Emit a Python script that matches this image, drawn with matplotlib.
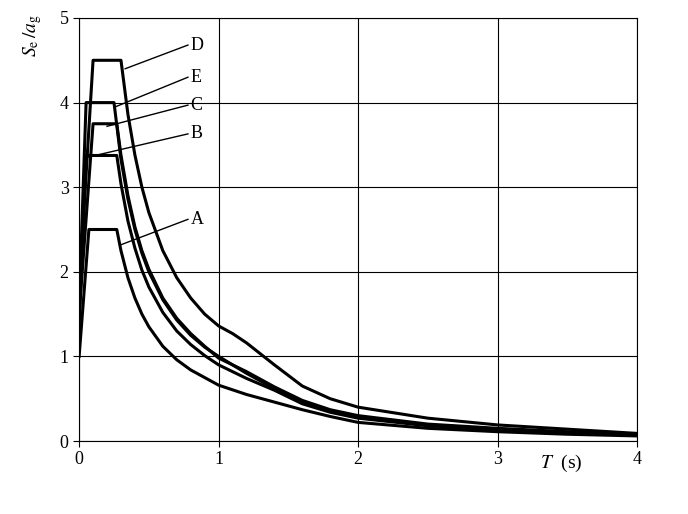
import matplotlib
matplotlib.use("Agg")
import matplotlib.pyplot as plt

plt.rcParams['font.family'] = ['Liberation Serif']
plt.rcParams['mathtext.fontset'] = 'stix'

T_A = [0, 0.07, 0.27, 0.3, 0.35, 0.4, 0.45, 0.5, 0.6, 0.7, 0.8, 0.9, 1.0, 1.2, 1.4, 1.6, 1.8, 2.0, 2.5, 3.0, 3.5, 4.0]
A = [1.0, 2.5, 2.5, 2.25, 1.93, 1.69, 1.5, 1.35, 1.12, 0.96, 0.84, 0.75, 0.66, 0.55, 0.46, 0.37, 0.29, 0.22, 0.15, 0.11, 0.08, 0.06]
T_B = [0, 0.05, 0.27, 0.3, 0.35, 0.4, 0.45, 0.5, 0.6, 0.7, 0.8, 0.9, 1.0, 1.2, 1.4, 1.6, 1.8, 2.0, 2.5, 3.0, 3.5, 4.0]
B = [1.35, 3.375, 3.375, 3.04, 2.6, 2.28, 2.02, 1.82, 1.52, 1.3, 1.14, 1.01, 0.9, 0.74, 0.6, 0.44, 0.34, 0.27, 0.18, 0.13, 0.1, 0.07]
T_C = [0, 0.1, 0.27, 0.3, 0.35, 0.4, 0.45, 0.5, 0.6, 0.7, 0.8, 0.9, 1.0, 1.2, 1.4, 1.6, 1.8, 2.0, 2.5, 3.0, 3.5, 4.0]
C = [1.5, 3.75, 3.75, 3.38, 2.9, 2.53, 2.25, 2.03, 1.69, 1.45, 1.27, 1.12, 0.98, 0.82, 0.64, 0.48, 0.37, 0.3, 0.2, 0.15, 0.11, 0.08]
T_D = [0, 0.1, 0.3, 0.35, 0.4, 0.45, 0.5, 0.6, 0.7, 0.8, 0.9, 1.0, 1.1, 1.2, 1.4, 1.6, 1.8, 2.0, 2.5, 3.0, 3.5, 4.0]
D = [1.8, 4.5, 4.5, 3.86, 3.38, 3.0, 2.7, 2.25, 1.93, 1.69, 1.5, 1.36, 1.27, 1.16, 0.9, 0.65, 0.5, 0.4, 0.27, 0.19, 0.14, 0.09]
T_E = [0, 0.05, 0.25, 0.3, 0.35, 0.4, 0.45, 0.5, 0.6, 0.7, 0.8, 0.9, 1.0, 1.2, 1.4, 1.6, 1.8, 2.0, 2.5, 3.0, 3.5, 4.0]
E = [1.6, 4.0, 4.0, 3.33, 2.86, 2.5, 2.22, 2.0, 1.67, 1.43, 1.25, 1.11, 1.0, 0.8, 0.62, 0.46, 0.35, 0.28, 0.19, 0.14, 0.1, 0.07]

labels = ['D', 'E', 'C', 'B', 'A']
label_y = [4.68, 4.3, 3.97, 3.63, 2.62]
anchor = [(0.33, 4.4), (0.26, 3.95), (0.2, 3.72), (0.05, 3.35), (0.3, 2.32)]

fig = plt.figure(figsize=(6.88, 5.14), dpi=100)
ax = fig.add_axes([0.115, 0.142, 0.811, 0.823])
for t, v in [(T_A, A), (T_B, B), (T_C, C), (T_D, D), (T_E, E)]:
    ax.plot(t, v, color='black', lw=2.2)
for lab, ly, (ax0, ay0) in zip(labels, label_y, anchor):
    ax.plot([ax0, 0.78], [ay0, ly], color='black', lw=1)
    ax.text(0.8, ly, lab, fontsize=13, va='center', ha='left')

ax.set_xlim(0, 4)
ax.set_ylim(0, 5)
ax.set_xticks([0, 1, 2, 3, 4])
ax.set_yticks([0, 1, 2, 3, 4, 5])
ax.grid(True, color='black', lw=0.8)
ax.tick_params(labelsize=13, length=4)
for s in ax.spines.values():
    s.set_linewidth(0.8)
fig.text(0.785, 0.09, r'$T$  (s)', fontsize=14)
fig.text(0.03, 0.93, r'$S_{\rm e}\,/a_{\rm g}$', fontsize=14, rotation=90, va='center')
fig.savefig('out.png', dpi=100)
